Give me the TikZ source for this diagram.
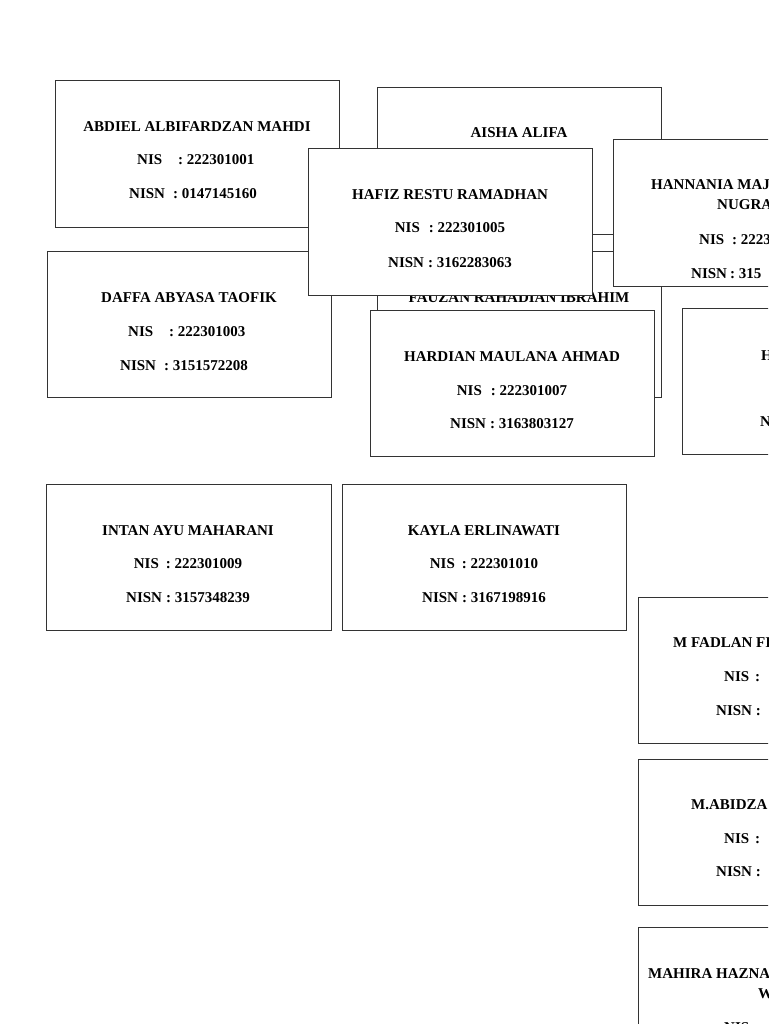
\documentclass[tikz,border=0pt]{standalone}
\usepackage{fontspec}
\setmainfont{Liberation Serif}
\begin{document}
\begin{tikzpicture}[x=1pt,y=-1pt,
  card/.style={draw=black!80,line width=0.8pt,fill=white},
  t/.style={font=\bfseries\fontsize{15}{17}\selectfont,inner sep=0pt,anchor=base}]
\useasboundingbox (0,0) rectangle (768,1024);
\clip (0,0) rectangle (768,1024);
% ABDIEL
\draw[card] (55,80) rectangle (339,227);
\node[t] (a1) at (197,132) {ABDIEL ALBIFARDZAN MAHDI};
\node[t,anchor=base west] (a2) at (137,165) {NIS\hspace{16pt}: 222301001};
\node[t,anchor=base west] (a3) at (129,199) {NISN\hspace{8pt}: 0147145160};
% AISHA
\draw[card] (377,87) rectangle (661,234);
\node[t] (b1) at (519,138) {AISHA ALIFA};
% FAUZAN
\draw[card] (377,251) rectangle (661,397);
\node[t] (c1) at (519,302) {FAUZAN RAHADIAN IBRAHIM};
% DAFFA
\draw[card] (47,251) rectangle (331,397);
\node[t] (d1) at (189,302) {DAFFA ABYASA TAOFIK};
\node[t,anchor=base west] (d2) at (128,336) {NIS\hspace{16pt}: 222301003};
\node[t,anchor=base west] (d3) at (120,370) {NISN\hspace{8pt}: 3151572208};
% HAFIZ
\draw[card] (308,148) rectangle (592,295);
\node[t] (e1) at (450,200) {HAFIZ RESTU RAMADHAN};
\node[t] (e2) at (450,233) {NIS\hspace{9pt}: 222301005};
\node[t] (e3) at (450,267) {NISN\hspace{4pt}: 3162283063};
% HANNANIA
\draw[card] (613,139) rectangle (900,286);
\node[t,anchor=base west] (f1) at (651,190) {HANNANIA MAJ};
\node[t,anchor=base west] (f2) at (717,210) {NUGRA};
\node[t,anchor=base west] (f3) at (699,244) {NIS\hspace{8pt}: 2223};
\node[t,anchor=base west] (f4) at (691,278) {NISN\hspace{3pt}: 315};
% H box
\draw[card] (682,308) rectangle (968,454);
\node[t,anchor=base west] (h1) at (761,360) {H};
\node[t,anchor=base west] (h3) at (760,426) {N};
% HARDIAN
\draw[card] (370,310) rectangle (654,456);
\node[t] (g1) at (512,361) {HARDIAN MAULANA AHMAD};
\node[t] (g2) at (512,395) {NIS\hspace{9pt}: 222301007};
\node[t] (g3) at (512,428) {NISN\hspace{4pt}: 3163803127};
% INTAN
\draw[card] (46,484) rectangle (331,630);
\node[t] (i1) at (188,535) {INTAN AYU MAHARANI};
\node[t] (i2) at (188,568) {NIS\hspace{7pt}: 222301009};
\node[t] (i3) at (188,602) {NISN\hspace{4pt}: 3157348239};
% KAYLA
\draw[card] (342,484) rectangle (626,630);
\node[t] (k1) at (484,535) {KAYLA ERLINAWATI};
\node[t] (k2) at (484,568) {NIS\hspace{7pt}: 222301010};
\node[t] (k3) at (484,602) {NISN\hspace{4pt}: 3167198916};
% M FADLAN
\draw[card] (638,597) rectangle (924,743);
\node[t,anchor=base west] (m1) at (673,647) {M FADLAN FI};
\node[t,anchor=base west] (m2) at (724,681) {NIS\hspace{6pt}:};
\node[t,anchor=base west] (m3) at (716,715) {NISN :};
% M.ABIDZA
\draw[card] (638,759) rectangle (924,905);
\node[t,anchor=base west] (n1) at (691,809) {M.ABIDZA};
\node[t,anchor=base west] (n2) at (724,843) {NIS\hspace{6pt}:};
\node[t,anchor=base west] (n3) at (716,876) {NISN :};
% MAHIRA
\draw[card] (638,927) rectangle (924,1080);
\node[t,anchor=base west] (p1) at (648,978) {MAHIRA HAZNA};
\node[t,anchor=base west] (p2) at (758,998) {W};
\node[t,anchor=base west] (p3) at (724,1032) {NIS};
\end{tikzpicture}
\end{document}
